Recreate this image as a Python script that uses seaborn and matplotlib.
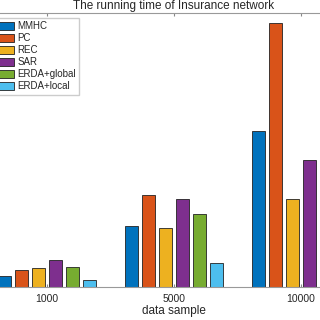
import matplotlib
matplotlib.use("Agg")
import matplotlib.pyplot as plt
import seaborn as sns
import pandas as pd

samples = ["1000", "5000", "10000"]
methods = ["MMHC", "PC", "REC", "SAR", "ERDA+global", "ERDA+local"]
mmhc = [11, 61, 156]
pc = [17, 92, 264]
rec = [19, 59, 88]
sar = [27, 88, 127]
erda_global = [20, 73, 110]
erda_local = [7, 24, 40]
colors = ["#0072BD", "#D95319", "#EDB120", "#7E2F8E", "#77AC30", "#4DBEEE"]

series = [mmhc, pc, rec, sar, erda_global, erda_local]
rows = []
for m, vals in zip(methods, series):
    for s, v in zip(samples, vals):
        rows.append({"sample": s, "method": m, "time": v})
df = pd.DataFrame(rows)

sns.set_style("white")
plt.rcParams["font.family"] = ["Liberation Sans", "DejaVu Sans"]

fig = plt.figure(figsize=(3.2, 3.2), dpi=100)
W = 320.0
ax = fig.add_axes([-16.5 / W, 33 / W, 381 / W, 274 / W])

sns.barplot(data=df, x="sample", y="time", hue="method", order=samples,
            hue_order=methods, palette=colors, ax=ax, gap=0.2,
            edgecolor="#222222", linewidth=0.6, saturation=1, legend=True)

ax.set_xlim(-0.5, 2.5)
ax.set_ylim(0, 274)
ax.set_ylabel("")
ax.set_yticks([])
ax.set_xlabel("data sample", fontsize=8.5, labelpad=1)
ax.set_title("The running time of Insurance network", fontsize=8.5, pad=3)
ax.tick_params(axis="x", direction="in", length=2.5, labelsize=7.5, pad=5,
               top=True, bottom=True, color="#888888")
for sp in ax.spines.values():
    sp.set_visible(True)
    sp.set_color("#999999")
    sp.set_linewidth(0.8)

handles, labels = ax.get_legend_handles_labels()
ax.legend(handles, labels, loc="upper left",
          bbox_to_anchor=(-4.5 / W, 1 - 18 / W), bbox_transform=fig.transFigure,
          fontsize=7, frameon=True, fancybox=False, edgecolor="#cccccc",
          framealpha=1, borderpad=0.35, handlelength=1.6, handleheight=0.85,
          handletextpad=0.3, labelspacing=0.2, borderaxespad=0)

fig.savefig("out.png", dpi=100)
